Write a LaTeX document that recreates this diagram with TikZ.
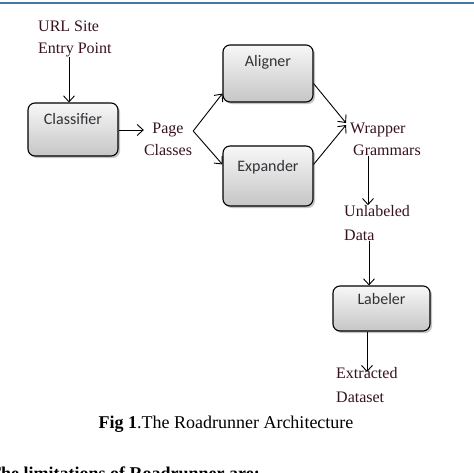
\documentclass[tikz,border=0pt]{standalone}
\usepackage{fontspec}
\setmainfont{Liberation Serif}
\newfontfamily\boxfont{Carlito}
\usetikzlibrary{arrows.meta,shadows,calc}
\definecolor{lbl}{RGB}{55,18,30}
\definecolor{boxtxt}{RGB}{50,50,55}
\definecolor{topline}{RGB}{70,120,160}
\tikzset{
  box/.style={draw=black, line width=1.1pt, rounded corners=7pt,
    top color=gray!6, bottom color=gray!45, inner sep=0pt,
    drop shadow={shadow xshift=2pt, shadow yshift=-2pt, opacity=0.45}},
  boxlabel/.style={font=\boxfont\fontsize{16}{18}\selectfont, text=boxtxt, inner sep=0pt},
  lbltext/.style={font=\fontsize{16}{22}\selectfont, text=lbl, inner sep=0pt, align=left},
  arr/.style={line width=0.9pt, -{Straight Barb[length=6pt,width=11pt,line width=0.9pt]}},
  ln/.style={line width=0.9pt}
}
\begin{document}
\begin{tikzpicture}[x=1pt,y=-1pt]
\useasboundingbox (0,0) rectangle (474,472);
\fill[white] (0,0) rectangle (474,472);
\draw[topline, line width=2pt] (0,3) -- (474,3);

% boxes
\node[box, minimum width=90pt, minimum height=53pt] (classifier) at (73,129.5) {};
\node[boxlabel] at ($(classifier.north)+(0,17)$) {Classifier};
\node[box, minimum width=90pt, minimum height=57pt] (aligner) at (268,73.5) {};
\node[boxlabel] at ($(aligner.north)+(0,18)$) {Aligner};
\node[box, minimum width=90pt, minimum height=60pt] (expander) at (268,176) {};
\node[boxlabel] at ($(expander.north)+(0,22)$) {Expander};
\node[box, minimum width=97pt, minimum height=45pt] (labeler) at (381.5,308.5) {};
\node[boxlabel] at ($(labeler.north)+(0,14)$) {Labeler};

% labels
\node[lbltext, anchor=west] (url) at (38,39) {URL Site\\Entry Point};
\node[lbltext, align=center] (pc) at (168,139) {Page\\Classes};
\node[lbltext, anchor=west] (wg) at (350,139) {Wrapper\\\hspace*{3pt}Grammars};
\node[lbltext, anchor=west, font=\fontsize{16}{24}\selectfont] (ud) at (344,223) {Unlabeled\\Data};
\node[lbltext, anchor=west, font=\fontsize{16}{24}\selectfont] (ed) at (336,385) {Extracted\\Dataset};

% connectors
\draw[arr] ([xshift=-4pt]classifier.north |- url.south) -- ([xshift=-4pt]classifier.north);
\draw[arr] (classifier.east |- 0,130) -- (pc.west |- 0,130);
\coordinate (split) at ($(pc.east)+(1,-8)$);
\draw[arr] (split) -- ($(aligner.south west)+(0,-9)$);
\draw[arr] (split) -- ($(expander.north west)+(0,19)$);
\coordinate (wgin) at ($(wg.west)+(-4,-16)$);
\draw[arr] ($(aligner.east)+(0,10)$) -- (wgin);
\draw[arr] ($(expander.north east)+(0,19)$) -- ($(wg.west)+(-4,-14)$);
\draw[arr] ([xshift=18pt]wg.west |- wg.south) -- ([xshift=18pt]wg.west |- ud.north);
\draw[arr] ([xshift=25pt]ud.west |- ud.south) -- ([xshift=25pt]ud.west |- labeler.north);
\draw[arr] ([xshift=-14.5pt]labeler.south) -- ([xshift=-14.5pt]labeler.south |- 0,372);

% caption
\node[font=\fontsize{18}{20}\selectfont, inner sep=0pt] (cap) at (226,424) {\textbf{Fig 1}.The Roadrunner Architecture};
\node[font=\bfseries\fontsize{18}{20}\selectfont, inner sep=0pt, anchor=base west] (lim) at (-11,479) {The limitations of Roadrunner are:};
\end{tikzpicture}
\end{document}
